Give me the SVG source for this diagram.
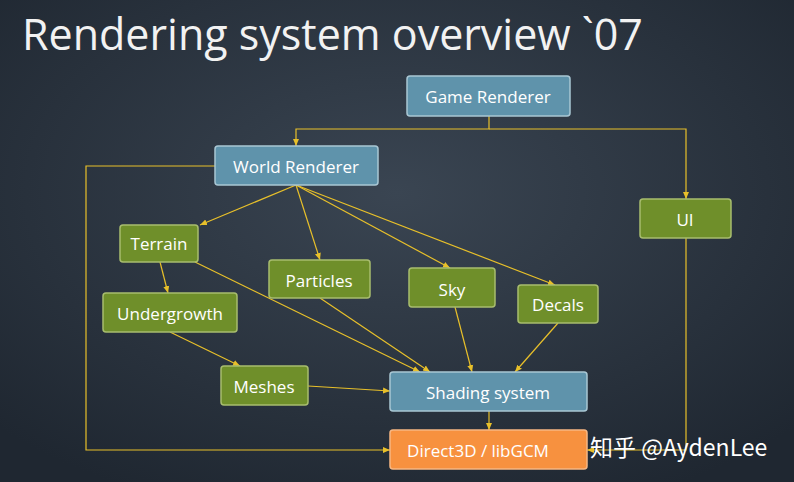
<svg xmlns="http://www.w3.org/2000/svg" width="794" height="482" viewBox="0 0 794 482">
<defs>
<radialGradient id="bg" cx="50%" cy="40%" r="70%"><stop offset="0" stop-color="#3a4552"/><stop offset="1" stop-color="#1f2731"/></radialGradient>
<marker id="a" markerWidth="8" markerHeight="8" refX="7" refY="4" orient="auto" markerUnits="userSpaceOnUse"><path d="M0,1 L7,4 L0,7 Z" fill="#e8c02a"/></marker>
<style>
.b{fill:#5f93ab;stroke:#a9c7d4;stroke-width:1.5}
.g{fill:#6f8f2a;stroke:#a8bd6e;stroke-width:1.5}
.o{fill:#f7913f;stroke:#f8b783;stroke-width:1.5}
.t{font-family:"Open Sans","Liberation Sans",sans-serif;font-size:17px;fill:#fff;text-anchor:middle;dominant-baseline:central}
#c path{fill:none;stroke:#e8c02a;stroke-width:1.2;marker-end:url(#a)}
</style>
</defs>
<rect width="794" height="482" fill="url(#bg)"/>
<text x="22" y="50" font-family="Open Sans,Liberation Sans,sans-serif" font-size="43" fill="#f2f2f2">Rendering system overview `07</text>
<g id="c">
<path d="M489,116 V129 H296 V146"/>
<path d="M489,129 H686 V199"/>
<path d="M215,166 H86 V450 H390"/>
<path d="M686,238 V450 H587"/>
<path d="M296,185 L200,225"/>
<path d="M296,185 L320,260"/>
<path d="M296,185 L450,268"/>
<path d="M296,185 L555,285"/>
<path d="M160,262 L168,293"/>
<path d="M195,262 L420,372"/>
<path d="M320,298 L430,372"/>
<path d="M455,307 L472,372"/>
<path d="M558,323 L515,372"/>
<path d="M170,332 L240,366"/>
<path d="M308,386 L390,391"/>
<path d="M489,411 V430"/>
</g>
<g id="game"><rect class="b" x="407" y="76" width="163" height="40" rx="3"/><text class="t" x="488" y="96">Game Renderer</text></g>
<g id="world"><rect class="b" x="215" y="146" width="163" height="39" rx="3"/><text class="t" x="296" y="166">World Renderer</text></g>
<g id="ui"><rect class="g" x="640" y="199" width="91" height="39" rx="3"/><text class="t" x="685" y="219">UI</text></g>
<g id="terrain"><rect class="g" x="120" y="225" width="78" height="37" rx="3"/><text class="t" x="159" y="243">Terrain</text></g>
<g id="particles"><rect class="g" x="269" y="260" width="101" height="38" rx="3"/><text class="t" x="319" y="280">Particles</text></g>
<g id="sky"><rect class="g" x="409" y="268" width="86" height="39" rx="3"/><text class="t" x="452" y="289">Sky</text></g>
<g id="decals"><rect class="g" x="518" y="285" width="80" height="38" rx="3"/><text class="t" x="558" y="304">Decals</text></g>
<g id="under"><rect class="g" x="103" y="293" width="134" height="39" rx="3"/><text class="t" x="170" y="313">Undergrowth</text></g>
<g id="meshes"><rect class="g" x="221" y="366" width="87" height="39" rx="3"/><text class="t" x="264" y="386">Meshes</text></g>
<g id="shading"><rect class="b" x="390" y="372" width="197" height="39" rx="3"/><text class="t" x="488" y="392">Shading system</text></g>
<g id="d3d"><rect class="o" x="390" y="430" width="197" height="39" rx="3"/><text class="t" x="478" y="450">Direct3D / libGCM</text></g>
<text x="590" y="446" font-family="Noto Sans CJK SC,Liberation Sans,sans-serif" font-size="23" fill="#fff" dominant-baseline="central">知乎 @AydenLee</text>
</svg>
